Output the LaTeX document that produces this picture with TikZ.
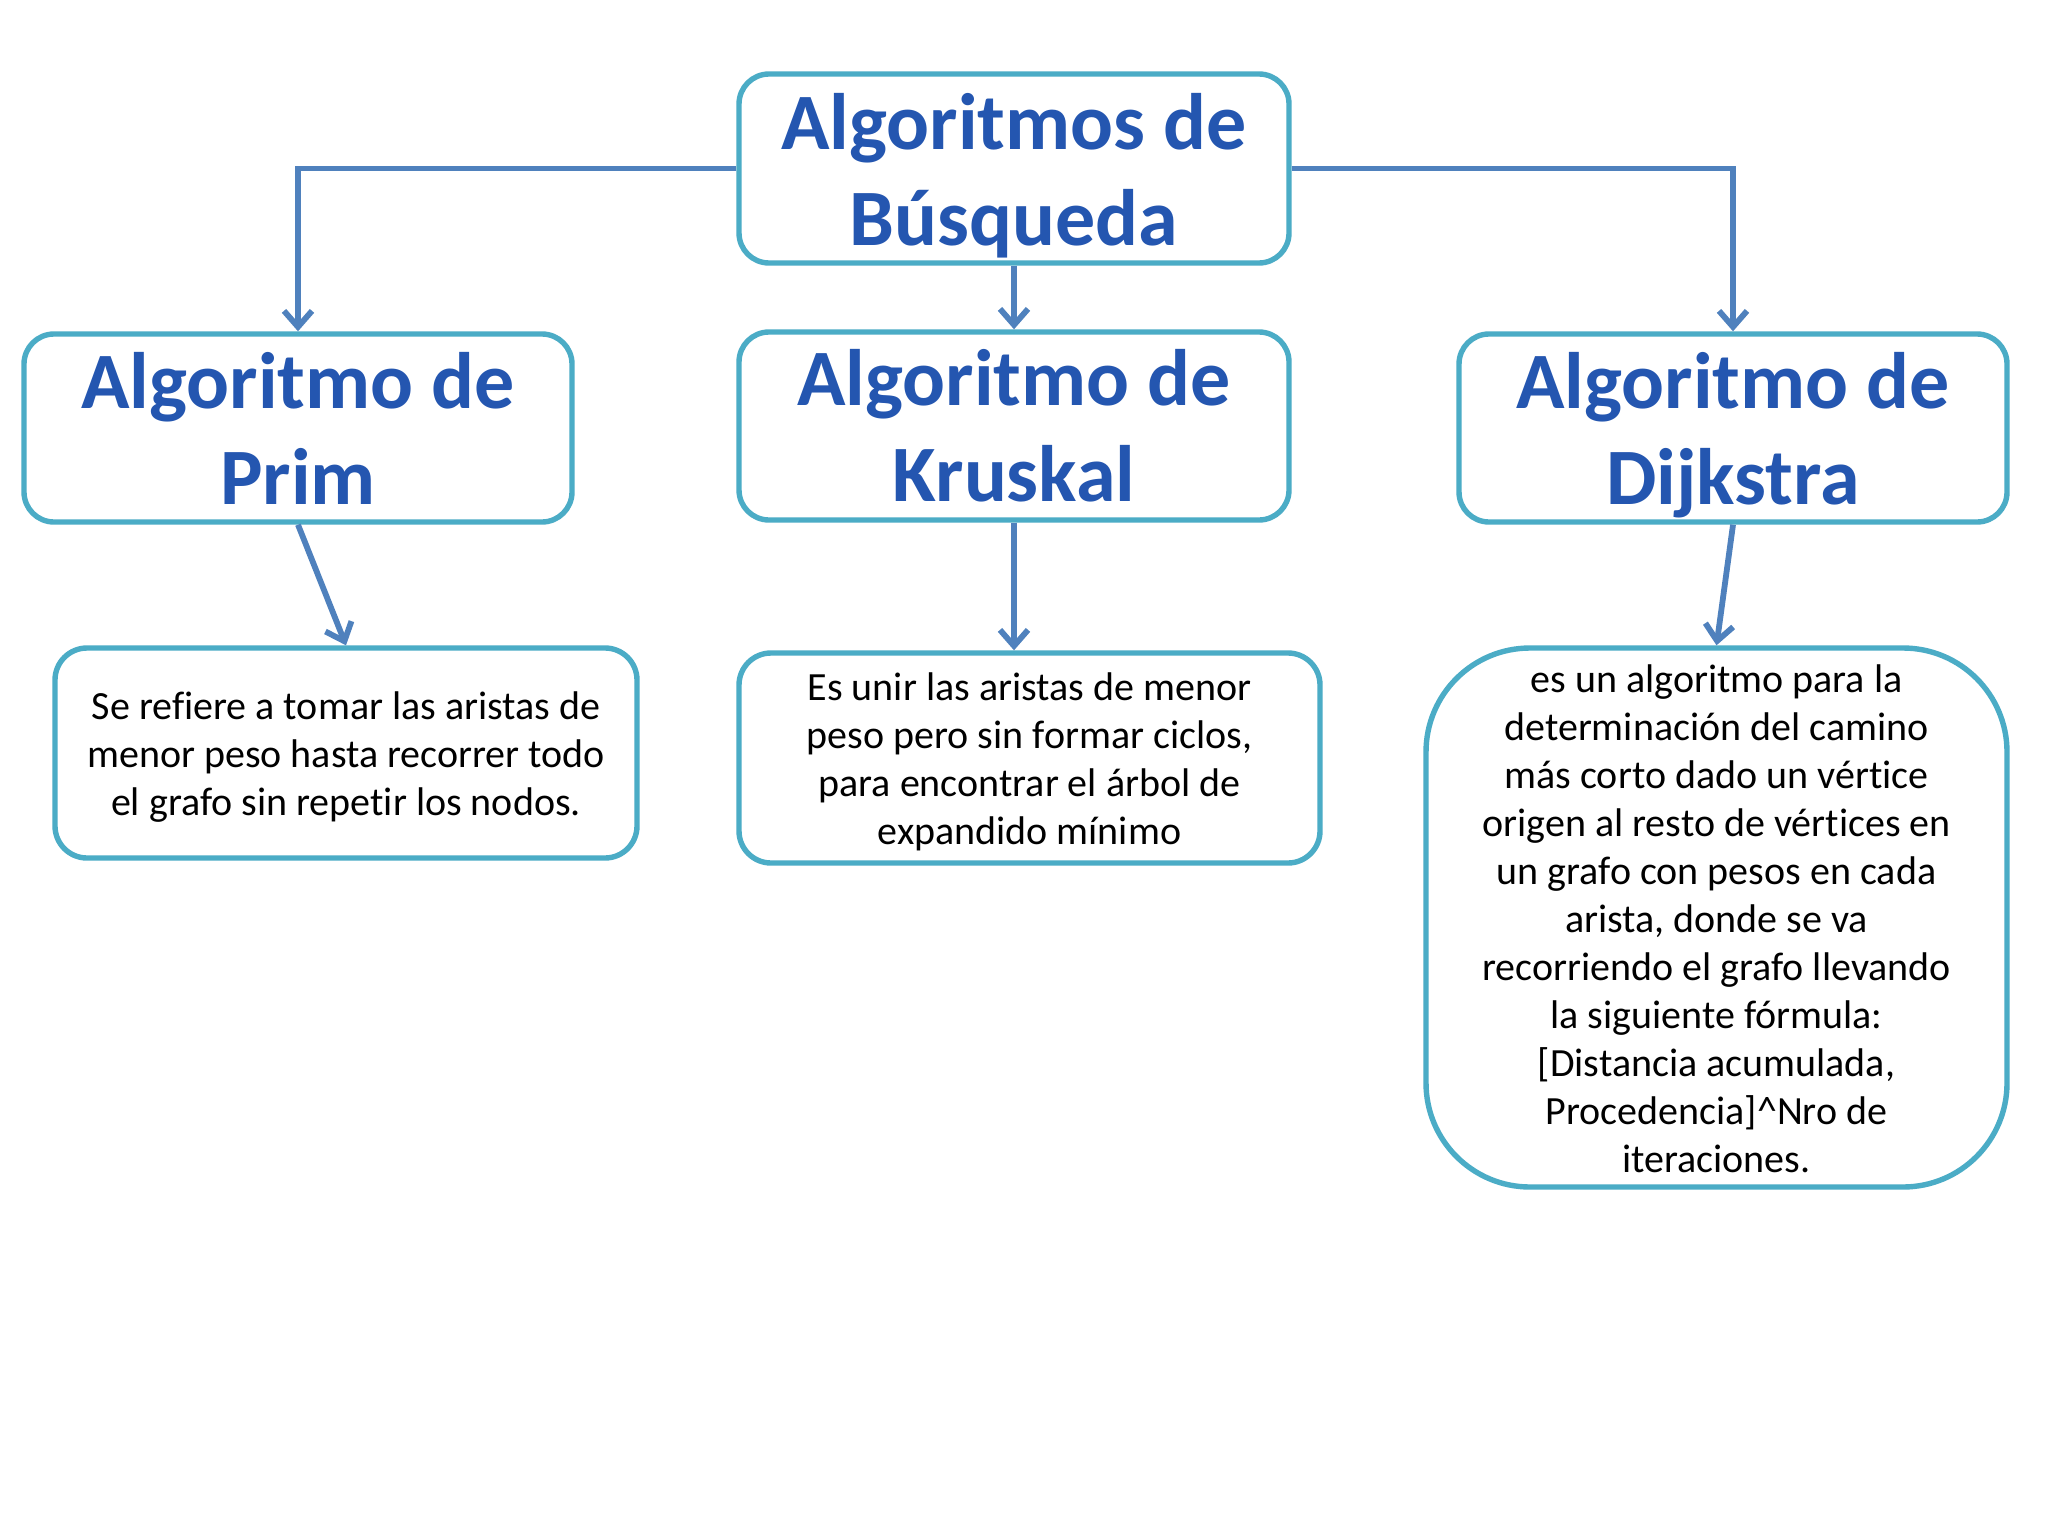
\documentclass[tikz,border=0pt]{standalone}
\usepackage{fontspec}
\setmainfont{Carlito}[Ligatures=NoCommon]
\usetikzlibrary{arrows.meta}
\definecolor{boxc}{RGB}{75,172,198}
\definecolor{linec}{RGB}{79,129,189}
\definecolor{titc}{RGB}{36,86,176}
\begin{document}
\begin{tikzpicture}[x=0.5pt,y=-0.5pt,
  box/.style={draw=boxc,line width=2.7pt,rounded corners=15pt,fill=white,inner sep=0pt},
  titletext/.style={inner sep=0pt,align=center,font=\bfseries\fontsize{40}{48}\selectfont,text=titc},
  desctext/.style={inner sep=0pt,align=center,font=\fontsize{20}{24}\selectfont,text=black},
  conn/.style={draw=linec,line width=2.9pt,-{Straight Barb[length=8pt,width=14pt]}}]
\fill[white] (0,0) rectangle (2048,1536);
\useasboundingbox (0,0) rectangle (2048,1536);

\node[box,minimum width=275pt,minimum height=94.5pt] (top) at (1014,168.5) {};
\node[box,minimum width=274pt,minimum height=94pt] (prim) at (298,428) {};
\node[box,minimum width=275pt,minimum height=94pt] (krus) at (1014,426) {};
\node[box,minimum width=274pt,minimum height=94pt] (dijk) at (1733,428) {};
\node[box,minimum width=291pt,minimum height=105pt,rounded corners=16pt] (primd) at (346,753) {};
\node[box,minimum width=290.5pt,minimum height=105pt,rounded corners=16pt] (krusd) at (1029.5,758) {};
\node[box,minimum width=290.5pt,minimum height=269.5pt,rounded corners=52pt] (dijkd) at (1716.5,917.5) {};

\node[titletext] (topt) at ([yshift=-3.5pt]top.center) {Algoritmos de\\Búsqueda};
\node[titletext] (primt) at ([yshift=0pt]prim.center) {Algoritmo de\\Prim};
\node[titletext] (krust) at ([yshift=0pt]krus.center) {Algoritmo de\\Kruskal};
\node[titletext] (dijkt) at ([yshift=-3.5pt]dijk.center) {Algoritmo de\\Dijkstra};

\node[desctext] (primdt) at ([yshift=-2pt]primd.center)
  {Se refiere a tomar las aristas de\\menor peso hasta recorrer todo\\el grafo sin repetir los nodos.};
\node[desctext] (krusdt) at ([yshift=-2pt]krusd.center)
  {Es unir las aristas de menor\\peso pero sin formar ciclos,\\para encontrar el árbol de\\expandido mínimo};
\node[desctext] (dijkdt) at ([yshift=-0.5pt]dijkd.center)
  {es un algoritmo para la\\determinación del camino\\más corto dado un vértice\\origen al resto de vértices en\\un grafo con pesos en cada\\arista, donde se va\\recorriendo el grafo llevando\\la siguiente fórmula:\\{[}Distancia acumulada,\\Procedencia{]}\^{}Nro de\\iteraciones.};

\draw[conn] (top.west) -| (prim.north);
\draw[conn] (top.east) -| (dijk.north);
\draw[conn] (top.south) -- (krus.north);
\draw[conn] (prim.south) -- (primd.north);
\draw[conn] (krus.south) -- (krus.south |- krusd.north);
\draw[conn] (dijk.south) -- (dijkd.north);
\end{tikzpicture}
\end{document}
